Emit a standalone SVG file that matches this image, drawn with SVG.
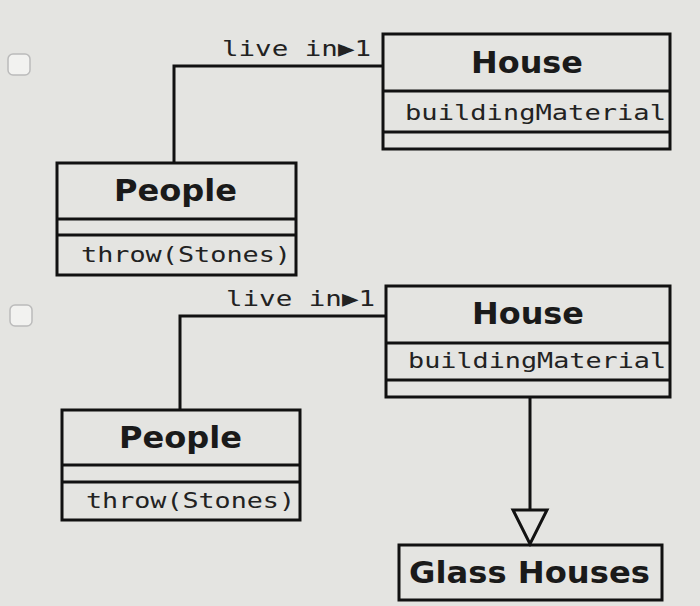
<svg xmlns="http://www.w3.org/2000/svg" width="700" height="606" viewBox="0 0 700 606">
<style>
.b{fill:none;stroke:#111;stroke-width:3}
.t{font-family:"DejaVu Sans",sans-serif;font-weight:bold;font-size:30px;fill:#1a1a1a}
.m{font-family:"DejaVu Sans Mono",monospace;font-size:22px;fill:#222}
.c{fill:#f2f2f0;stroke:#bbb;stroke-width:1.5}
</style>
<rect width="700" height="606" fill="#e4e4e1"/>
<rect class="c" x="8" y="54" width="22" height="21" rx="5"/>
<rect class="c" x="10" y="305" width="22" height="21" rx="5"/>
<g id="connectors">
<polyline class="b" points="383,66 174,66 174,162"/>
<text class="m" x="222" y="56" textLength="149" lengthAdjust="spacingAndGlyphs">live in▶1</text>
<polyline class="b" points="386,316 180,316 180,410"/>
<text class="m" x="226" y="306" textLength="149" lengthAdjust="spacingAndGlyphs">live in▶1</text>
<line class="b" x1="530" y1="397" x2="530" y2="510"/>
<polygon class="b" points="513,510 547,510 530,544" fill="#e4e4e1"/>
</g>
<g id="house1">
<rect class="b" x="383" y="34" width="287" height="115"/>
<line class="b" x1="383" y1="91" x2="670" y2="91"/>
<line class="b" x1="383" y1="132" x2="670" y2="132"/>
<text class="t" x="471" y="73" textLength="112" lengthAdjust="spacingAndGlyphs">House</text>
<text class="m" x="405" y="120" textLength="261" lengthAdjust="spacingAndGlyphs">buildingMaterial</text>
</g>
<g id="people1">
<rect class="b" x="57" y="163" width="239" height="112"/>
<line class="b" x1="57" y1="219" x2="296" y2="219"/>
<line class="b" x1="57" y1="235" x2="296" y2="235"/>
<text class="t" x="114" y="201" textLength="123" lengthAdjust="spacingAndGlyphs">People</text>
<text class="m" x="81" y="262" textLength="210" lengthAdjust="spacingAndGlyphs">throw(Stones)</text>
</g>
<g id="house2">
<rect class="b" x="386" y="286" width="284" height="111"/>
<line class="b" x1="386" y1="343" x2="670" y2="343"/>
<line class="b" x1="386" y1="380" x2="670" y2="380"/>
<text class="t" x="472" y="324" textLength="112" lengthAdjust="spacingAndGlyphs">House</text>
<text class="m" x="408" y="368" textLength="258" lengthAdjust="spacingAndGlyphs">buildingMaterial</text>
</g>
<g id="people2">
<rect class="b" x="62" y="410" width="238" height="110"/>
<line class="b" x1="62" y1="465" x2="300" y2="465"/>
<line class="b" x1="62" y1="482" x2="300" y2="482"/>
<text class="t" x="119" y="448" textLength="123" lengthAdjust="spacingAndGlyphs">People</text>
<text class="m" x="86" y="508" textLength="209" lengthAdjust="spacingAndGlyphs">throw(Stones)</text>
</g>
<g id="glass">
<rect class="b" x="399" y="545" width="263" height="55"/>
<text class="t" x="409" y="583" textLength="241" lengthAdjust="spacingAndGlyphs">Glass Houses</text>
</g>
</svg>
